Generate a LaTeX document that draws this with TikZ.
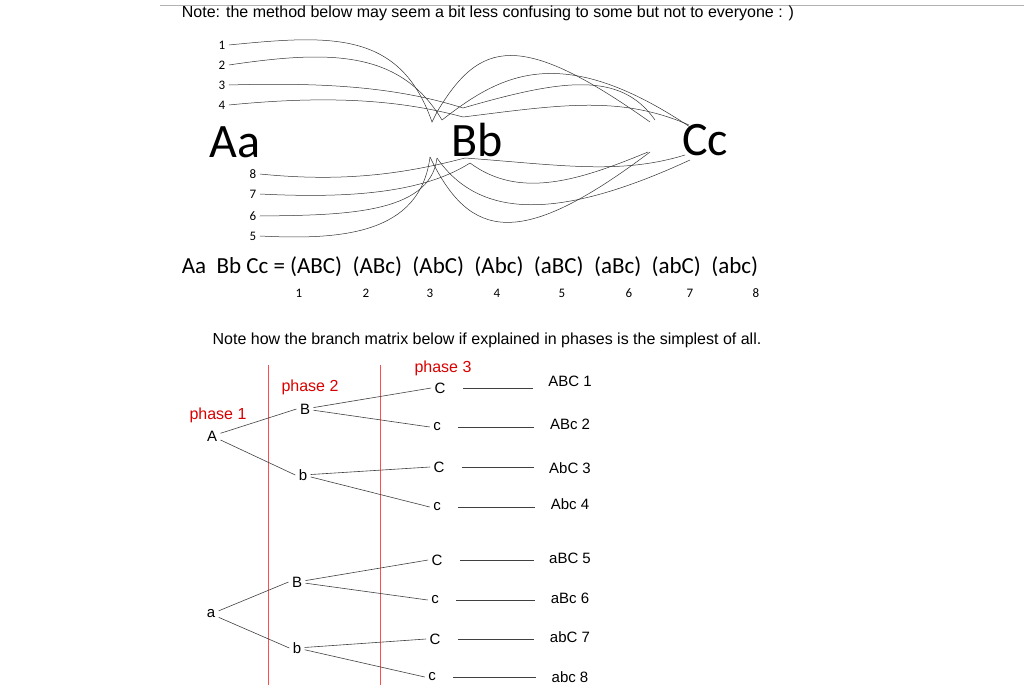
\documentclass[tikz,border=0pt]{standalone}
\usepackage{fontspec}
\setmainfont{Liberation Sans}
\newfontfamily\calfont{Carlito}
\begin{document}
\begin{tikzpicture}[x=1pt,y=-1pt,
  ar/.style={font=\fontsize{16}{18}\selectfont},
  tr/.style={font=\fontsize{15}{17}\selectfont},
  red/.style={text=red!85!black,font=\fontsize{16}{18}\selectfont},
  sm/.style={font=\calfont\fontsize{13}{15}\selectfont},
  big/.style={font=\calfont\fontsize{48}{50}\selectfont},
  eq/.style={font=\calfont\fontsize{23}{25}\selectfont},
  ln/.style={draw=black!75,line width=0.6pt},
  cv/.style={draw=black!80,line width=0.5pt}]
\useasboundingbox (0,0) rectangle (1024,685);
\draw[black!30] (160,5) -- (1024,5);
\node[ar] (note1) at (488,13) {Note: the method below may seem a bit less confusing to some but not to everyone : )};
% top diagram
\foreach \n/\y in {1/45,2/65,3/85,4/105}{\node[sm] (n\n) at (222,\y) {\n};}
\foreach \n/\y in {8/174,7/194,6/216,5/236}{\node[sm] (n\n) at (253,\y) {\n};}
\node[big] (Aa) at (235,142) {Aa};
\node[big] (Bb) at (477,140) {Bb};
\node[big] (Cc) at (705,140) {Cc};
\draw[cv] (n1.east) .. controls (330,35) and (400,30) .. (432,122) -- (437,112);
\draw[cv] (437,112) .. controls (480,40) and (520,30) .. (650,122);
\draw[cv] (n2.east) .. controls (330,50) and (400,50) .. (442,120);
\draw[cv] (442,120) .. controls (500,75) and (560,40) .. (690,127);
\draw[cv] (n3.east) .. controls (330,82) and (400,88) .. (463,108);
\draw[cv] (463,108) .. controls (560,80) and (620,70) .. (655,120);
\draw[cv] (n4.east) .. controls (330,95) and (400,100) .. (463,117);
\draw[cv] (463,117) .. controls (560,105) and (620,95) .. (689,125);
\draw[cv] (n8.east) .. controls (340,182) and (400,175) .. (465,158);
\draw[cv] (465,158) .. controls (560,165) and (620,175) .. (685,155);
\draw[cv] (n7.east) .. controls (340,198) and (420,195) .. (470,163);
\draw[cv] (470,163) .. controls (520,200) and (580,180) .. (648,152);
\draw[cv] (n6.east) .. controls (340,215) and (430,215) .. (437,158);
\draw[cv] (437,158) .. controls (480,220) and (560,220) .. (690,160);
\draw[cv] (n5.east) .. controls (340,240) and (420,235) .. (430,157);
\draw[cv] (430,157) .. controls (470,240) and (520,250) .. (650,152);
\node[eq] (eq) at (470,267) {Aa\ \ Bb Cc = (ABC)\ \ (ABc)\ \ (AbC)\ \ (Abc)\ \ (aBC)\ \ (aBc)\ \ (abC)\ \ (abc)};
\foreach \n/\x in {1/299,2/366,3/430,4/497,5/562,6/629,7/690,8/756}{\node[sm] (k\n) at (\x,293) {\n};}
\node[ar] (note2) at (487,340) {Note how the branch matrix below if explained in phases is the simplest of all.};
% tree
\draw[red!70,line width=0.7pt] (268,365) -- (268,685);
\draw[red!70,line width=0.7pt] (380,365) -- (380,685);
\node[red] (p1) at (218,415) {phase 1};
\node[red] (p2) at (310,387) {phase 2};
\node[red] (p3) at (443,368) {phase 3};
\node[tr] (A) at (212,436) {A};
\node[tr] (a) at (211,614) {a};
\node[tr] (B1) at (305,409) {B};
\node[tr] (b1) at (303,475) {b};
\node[tr] (B2) at (297,582) {B};
\node[tr] (b2) at (297,648) {b};
\foreach \i/\t/\y/\x in {1/C/388/440,2/c/427/437,3/C/467/439,4/c/507/437,5/C/560/437,6/c/600/435,7/C/639/435,8/c/677/432}{
  \node[tr] (c\i) at (\x,\y) {\t};}
\foreach \i/\t/\y in {1/ABC 1/381,2/ABc 2/424,3/AbC 3/468,4/Abc 4/504,5/aBC 5/558,6/aBc 6/598,7/abC 7/637,8/abc 8/677}{
  \node[tr] (r\i) at (570,\y) {\t};
  \draw[ln] ([xshift=14pt]c\i.east) -- ([xshift=-12pt]c\i.east -| r\i.west);}
\draw[ln] (A) -- (B1.west); \draw[ln] (A) -- (b1.west);
\draw[ln] (a) -- (B2.west); \draw[ln] (a) -- (b2.west);
\draw[ln] (B1) -- (c1.west); \draw[ln] (B1) -- (c2.west);
\draw[ln] (b1) -- (c3.west); \draw[ln] (b1) -- (c4.west);
\draw[ln] (B2) -- (c5.west); \draw[ln] (B2) -- (c6.west);
\draw[ln] (b2) -- (c7.west); \draw[ln] (b2) -- (c8.west);
\end{tikzpicture}
\end{document}
